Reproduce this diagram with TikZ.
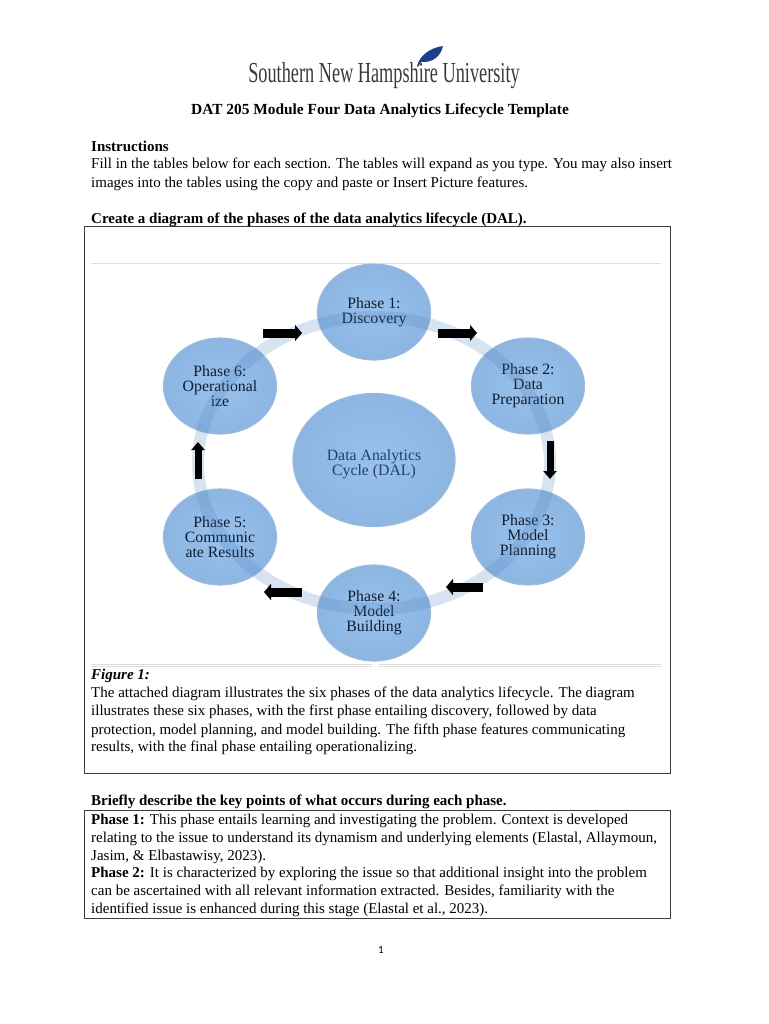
\documentclass[tikz,border=0pt]{standalone}
\usepackage{fontspec}
\setmainfont{Liberation Serif}
\newfontfamily\footfont{Carlito}
\usetikzlibrary{shapes.geometric,arrows.meta}
\definecolor{framegray}{HTML}{3C3C3C}
\definecolor{rulegray}{HTML}{DDDDDD}
\definecolor{leafblue}{HTML}{1C3F8C}
\definecolor{logogray}{HTML}{3A3A3A}
\definecolor{phaseblue}{HTML}{99C1EC}
\definecolor{phaseedge}{HTML}{8DB5E2}
\definecolor{phaserim}{HTML}{9DBBDD}
\definecolor{ringblue}{HTML}{4F81BD}
\definecolor{labelnavy}{HTML}{101C30}
\definecolor{centrenavy}{HTML}{24406F}
\tikzset{
  bodytext/.style={anchor=base west, inner sep=0pt, font=\fontsize{15}{17}\selectfont},
  boldtext/.style={bodytext, font=\fontsize{15}{17}\selectfont\bfseries},
  phase/.style={ellipse, draw=phaserim, line width=1.2pt, inner sep=0pt, align=center,
    minimum width=113pt, minimum height=96pt, inner color=phaseblue, outer color=phaseedge,
    text=labelnavy, font=\fontsize{15.8}{15}\selectfont},
  blockarrow/.style={line width=9pt, black, -{Triangle[length=7pt, width=16pt]}},
  uparrow/.style={line width=7pt, black, -{Triangle[length=8pt, width=13pt]}},
}
\begin{document}
\begin{tikzpicture}[x=1pt, y=-1pt]
  \useasboundingbox (0,0) rectangle (768,1024);
  % logo
  \node[anchor=base, inner sep=0pt, text=logogray, xscale=0.63, font=\fontsize{29}{30}\selectfont] (logo) at (384,83) {Southern New Hampshire University};
  \fill[leafblue] (417,66) .. controls (420,55) and (430,48) .. (443,46) .. controls (441,55) and (434,63) .. (421,62) -- (418,67) -- cycle;
  % title and instructions
  \node[boldtext, anchor=base, font=\fontsize{15.4}{17}\selectfont\bfseries] (title) at (380,115) {DAT 205 Module Four Data Analytics Lifecycle Template};
  \node[boldtext] (instr) at (91,151.5) {Instructions};
  \node[bodytext] (fill) at (91,169) {Fill in the tables below for each section. The tables will expand as you type. You may also insert};
  \node[bodytext] (images) at (91,188) {images into the tables using the copy and paste or Insert Picture features.};
  \node[boldtext] (create) at (91,223) {Create a diagram of the phases of the data analytics lifecycle (DAL).};
  % frames
  \draw[framegray, line width=0.9pt] (84,226.5) rectangle (670,773);
  \draw[framegray, line width=0.9pt] (84,810) rectangle (670,918);
  \draw[rulegray, line width=0.8pt] (91,263) -- (372,263) (379,263) -- (661,263);
  \draw[rulegray, line width=0.8pt] (91,664) -- (372,664) (379,664) -- (661,664);
  \draw[rulegray, line width=0.8pt] (91,666) -- (372,666) (379,666) -- (661,666);
  % phases
  \node[phase] (centre) at (374,460) [minimum width=162pt, minimum height=133pt, text=centrenavy] {\rule{0pt}{20pt}Data Analytics\\Cycle (DAL)};
  \node[phase] (one) at (374,312) [minimum height=96pt] {Phase 1:\\Discovery};
  \node[phase] (two) at (528,386) {Phase 2:\\Data\\Preparation};
  \node[phase] (three) at (528,537) {Phase 3:\\Model\\Planning};
  \node[phase] (four) at (374,613) {Phase 4:\\Model\\Building};
  \node[phase] (five) at (220,537) {Phase 5:\\Communic\\ate Results};
  \node[phase] (six) at (220,386) {Phase 6:\\Operational\\ize};
  % ring
  \draw[ringblue, opacity=0.22, line width=12pt] (374,463) ellipse (176 and 146);
  % arrows
  \draw[blockarrow] (263,333) -- (302,333);
  \draw[blockarrow] (438,333) -- (477,333);
  \draw[uparrow] (550,441) -- (550,479);
  \draw[blockarrow] (483,587) -- (446,587);
  \draw[blockarrow] (302,592) -- (264,592);
  \draw[uparrow] (198,479) -- (198,442);
  % figure text
  \node[boldtext, font=\fontsize{15}{17}\selectfont\bfseries\itshape] (figure) at (91,679) {Figure 1:};
  \node[bodytext] (figa) at (91,697) {The attached diagram illustrates the six phases of the data analytics lifecycle. The diagram};
  \node[bodytext] (figb) at (91,715) {illustrates these six phases, with the first phase entailing discovery, followed by data};
  \node[bodytext] (figc) at (91,734) {protection, model planning, and model building. The fifth phase features communicating};
  \node[bodytext] (figd) at (91,751) {results, with the final phase entailing operationalizing.};
  % second table
  \node[boldtext] (brief) at (91,805) {Briefly describe the key points of what occurs during each phase.};
  \node[bodytext] (pa) at (91,824) {\textbf{Phase 1:} This phase entails learning and investigating the problem. Context is developed};
  \node[bodytext] (pb) at (91,842) {relating to the issue to understand its dynamism and underlying elements (Elastal, Allaymoun,};
  \node[bodytext] (pc) at (91,860) {Jasim, \& Elbastawisy, 2023).};
  \node[bodytext] (pd) at (91,877) {\textbf{Phase 2:} It is characterized by exploring the issue so that additional insight into the problem};
  \node[bodytext] (pe) at (91,895) {can be ascertained with all relevant information extracted. Besides, familiarity with the};
  \node[bodytext] (pf) at (91,913) {identified issue is enhanced during this stage (Elastal et al., 2023).};
  \node[inner sep=0pt, font=\footfont\fontsize{11}{12}\selectfont] (pagenum) at (381,950) {1};
\end{tikzpicture}
\end{document}
